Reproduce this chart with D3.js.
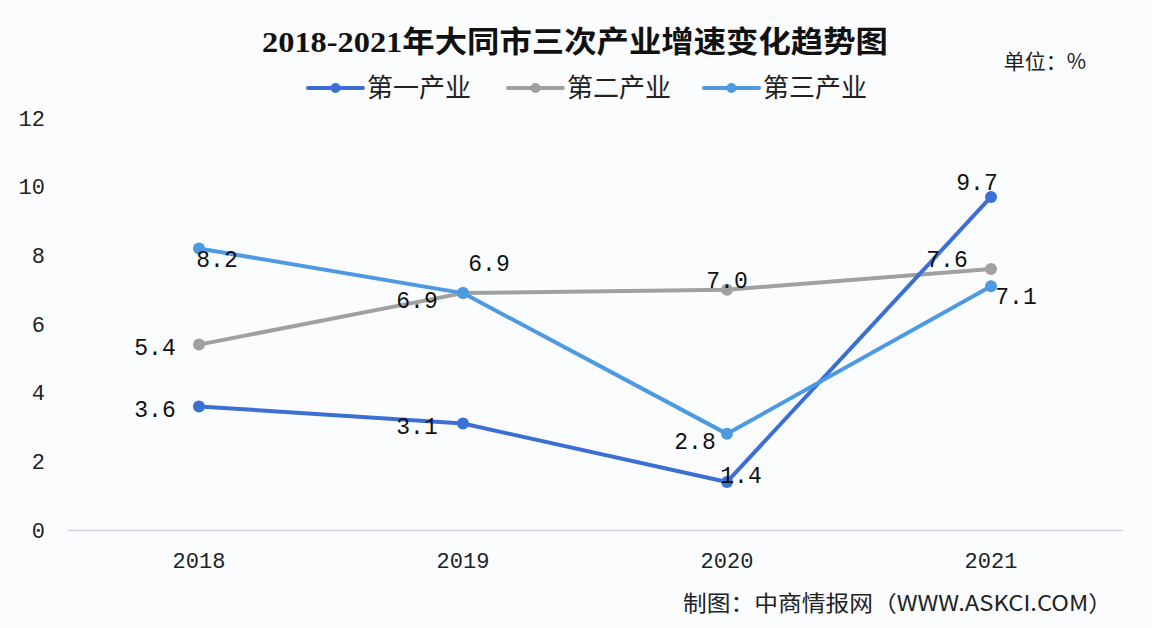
<!DOCTYPE html>
<html><head><meta charset="utf-8">
<script src="https://cdn.jsdelivr.net/npm/d3@7"></script>
<style>
html,body{margin:0;padding:0;background:#fbfcfe;}
svg{display:block;}
</style></head>
<body>
<svg id="chart" width="1152" height="628"></svg>
<script>
const years = ["2018", "2019", "2020", "2021"];
const seriesNames = ["第一产业", "第二产业", "第三产业"];
const primary = [3.6, 3.1, 1.4, 9.7];
const secondary = [5.4, 6.9, 7.0, 7.6];
const tertiary = [8.2, 6.9, 2.8, 7.1];
const yTicks = [0, 2, 4, 6, 8, 10, 12];
const colors = ["#3b6fd4", "#a0a0a0", "#4d9ae2"];
// label placement offsets (dx, dy) per series per point
const labelOffsets = [
  [[-44, 3], [-46, 2], [14, -7], [-14, -15]],
  [[-44, 2], [-46, 7], [0, -10], [-44, -10]],
  [[18, 11], [26, -30], [-32, 7], [25, 10]]
];
const title = "2018-2021年大同市三次产业增速变化趋势图";
const unitText = "单位：%";
const sourceText = "制图：中商情报网（WWW.ASKCI.COM）";

const svg = d3.select("#chart");
const serif = "'Liberation Serif','Noto Sans CJK SC',serif";
const mono = "'Liberation Mono','DejaVu Sans Mono',monospace";
const cjk = "'Noto Sans CJK SC','Liberation Serif',sans-serif";

const x = d3.scaleBand().domain(years).range([67, 1123]);
const y = d3.scaleLinear().domain([0, 12]).range([530, 118]);

// title
svg.append("text").attr("x", 262).attr("y", 52)
  .attr("textLength", 626).attr("lengthAdjust", "spacingAndGlyphs")
  .style("font-family", serif).style("font-size", "30px").style("font-weight", "bold")
  .attr("fill", "#111").text(title);

svg.append("text").attr("x", 1086).attr("y", 69).attr("text-anchor", "end")
  .style("font-family", cjk).style("font-size", "21px").attr("fill", "#222").text(unitText);

// legend
const legendX = [308, 508, 704];
seriesNames.forEach((n, i) => {
  const g = svg.append("g").attr("transform", `translate(${legendX[i]},88)`);
  g.append("line").attr("x1", 0).attr("x2", 55).attr("y1", 0).attr("y2", 0)
    .attr("stroke", colors[i]).attr("stroke-width", 4).attr("stroke-linecap", "round");
  g.append("circle").attr("cx", 27.5).attr("cy", 0).attr("r", 5).attr("fill", colors[i]);
  g.append("text").attr("x", 59).attr("y", 9)
    .style("font-family", cjk).style("font-size", "26px").attr("fill", "#222").text(n);
});

// y axis labels
const yAxis = d3.axisLeft(y).tickValues(yTicks).tickSize(0).tickPadding(0);
const ya = svg.append("g").attr("transform", "translate(45,0)").call(yAxis);
ya.select(".domain").remove();
ya.selectAll("text").style("font-family", mono).style("font-size", "22px").attr("fill", "#222");

// x axis
const xAxis = d3.axisBottom(x).tickSize(0).tickPadding(22);
const xa = svg.append("g").attr("transform", "translate(0,530)").call(xAxis);
xa.select(".domain").attr("stroke", "#cdd2da").attr("stroke-width", 1.5);
xa.selectAll("text").style("font-family", mono).style("font-size", "22px").attr("fill", "#222");

// series
const data = [primary, secondary, tertiary];
const line = d3.line().x((d, i) => x(years[i]) + x.bandwidth() / 2).y(d => y(d));
const order = [1, 0, 2];
order.forEach(s => {
  svg.append("path").datum(data[s]).attr("d", line)
    .attr("fill", "none").attr("stroke", colors[s]).attr("stroke-width", 4)
    .attr("stroke-linejoin", "round").attr("stroke-linecap", "round");
  svg.selectAll(null).data(data[s]).enter().append("circle")
    .attr("cx", (d, i) => x(years[i]) + x.bandwidth() / 2).attr("cy", d => y(d))
    .attr("r", 6).attr("fill", colors[s]);
});
data.forEach((arr, s) => {
  svg.selectAll(null).data(arr).enter().append("text")
    .attr("x", (d, i) => x(years[i]) + x.bandwidth() / 2 + labelOffsets[s][i][0])
    .attr("y", (d, i) => y(d) + labelOffsets[s][i][1] + 8)
    .attr("text-anchor", "middle")
    .style("font-family", mono).style("font-size", "23px")
    .attr("fill", "#111").text(d => d.toFixed(1));
});

// source
svg.append("text").attr("x", 683).attr("y", 611)
  .attr("textLength", 429).attr("lengthAdjust", "spacingAndGlyphs")
  .style("font-family", cjk).style("font-size", "22px").attr("fill", "#222").text(sourceText);
</script>
</body></html>
